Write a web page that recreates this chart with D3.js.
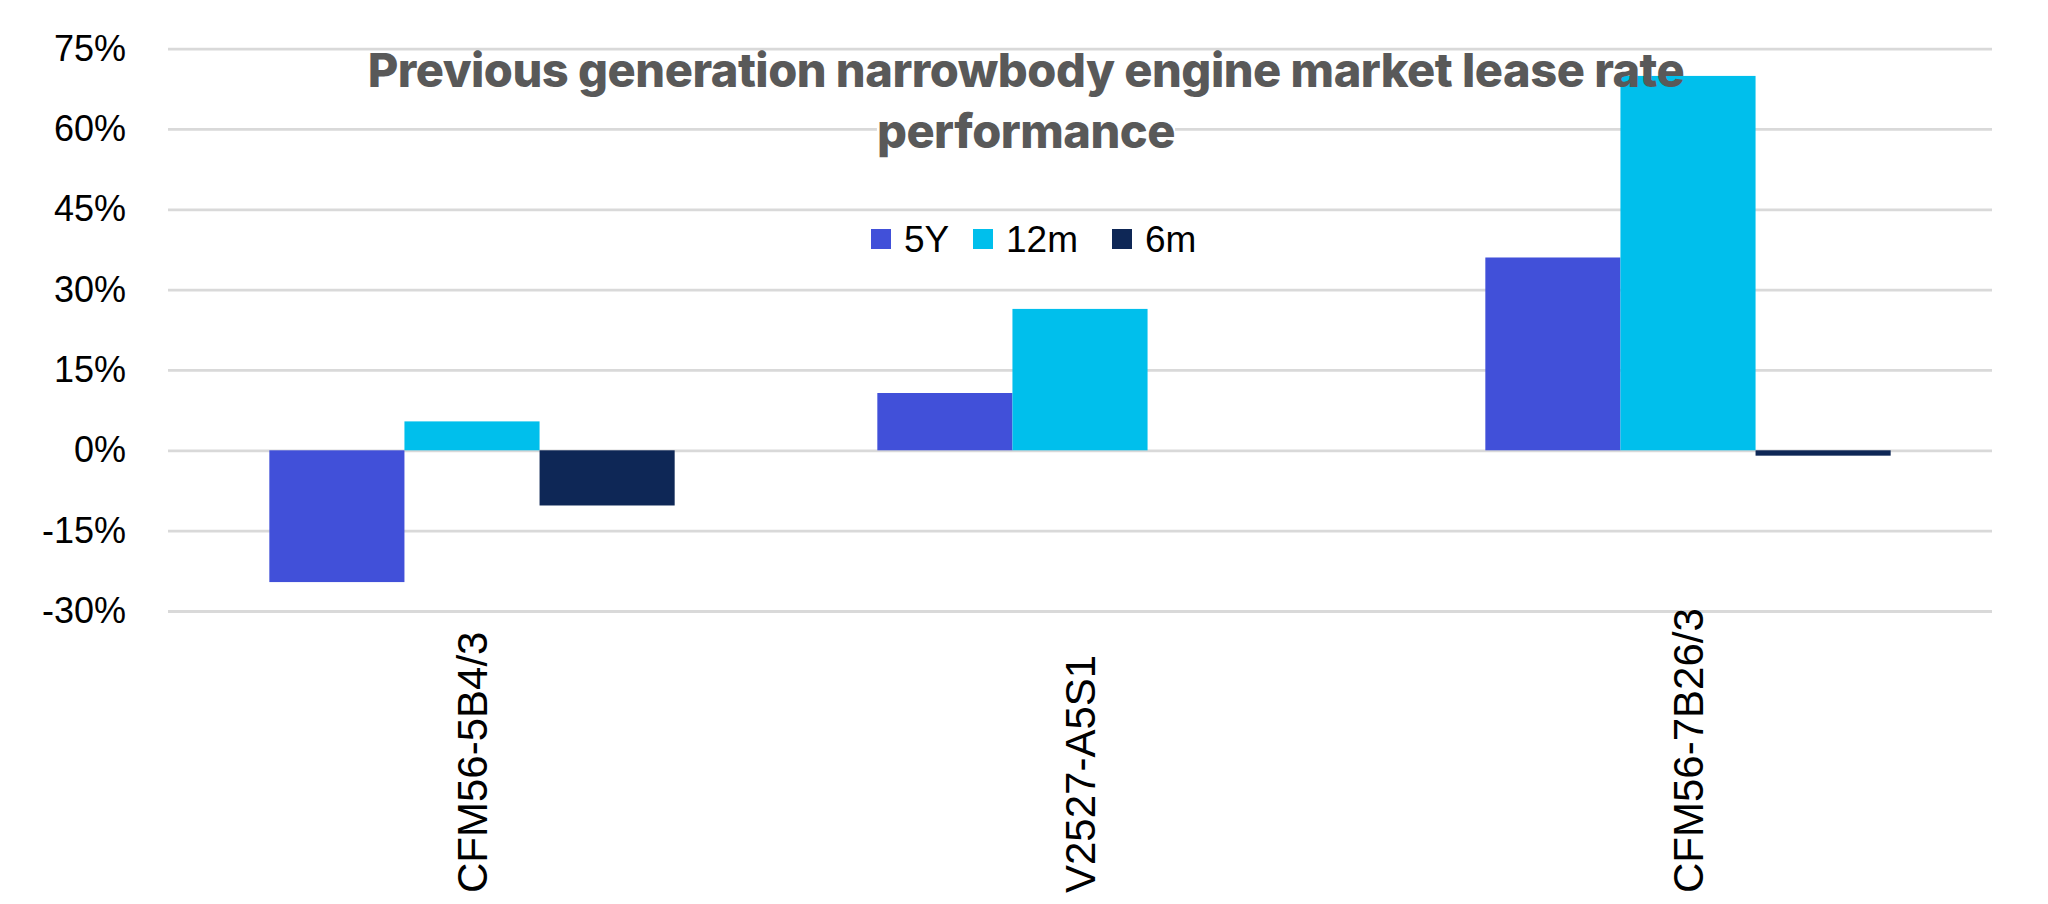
<!DOCTYPE html>
<head>
<meta charset="utf-8">
<style>
  body { margin: 0; background: #fff; }
  svg { display: block; }
</style>
</head>
<body>
<div id="chart_container"></div>

<script src="https://cdn.jsdelivr.net/npm/d3@7"></script>

<script>
const engines = ['CFM56-5B4/3', 'V2527-A5S1', 'CFM56-7B26/3']
const seriesNames = ['5Y', '12m', '6m']
const fiveYear = [-0.246, 0.107, 0.36]
const twelveMonth = [0.054, 0.264, 0.699]
const sixMonth = [-0.103, 0, -0.010]
const yTicks = [-0.30, -0.15, 0, 0.15, 0.30, 0.45, 0.60, 0.75]
const titleLines = ['Previous generation narrowbody engine market lease rate', 'performance']

const colors = ['#4150d9', '#00bfec', '#0e2756']
const values = [fiveYear, twelveMonth, sixMonth]

const width = 2048
const height = 904
const margin = {left: 168, right: 56}

const svg = d3.select('#chart_container')
              .append('svg')
              .attr('width', width)
              .attr('height', height)

const x0 = d3.scaleBand()
             .domain(engines)
             .range([margin.left, width - margin.right])
             .paddingInner(1/3)
             .paddingOuter(1/6)

const x1 = d3.scaleBand()
             .domain(seriesNames)
             .range([0, x0.bandwidth()])
             .padding(0)

const y = d3.scaleLinear()
            .domain([-0.30, 0.75])
            .range([611, 48.6])

const pct = d3.format('.0%')

// gridlines + tick labels
const yAxis = d3.axisLeft(y)
                .tickValues(yTicks)
                .tickFormat(d => pct(d).replace('\u2212', '-'))
                .tickSize(-(width - margin.left - margin.right))
                .tickPadding(42)

svg.append('g')
   .attr('transform', 'translate(' + margin.left + ',0)')
   .call(yAxis)
   .call(g => g.select('.domain').remove())
   .call(g => g.selectAll('.tick line').attr('stroke', '#d9d9d9').attr('stroke-width', 2.8))
   .call(g => g.selectAll('.tick text')
               .attr('fill', '#000')
               .style('font-family', '"Liberation Sans", Arial, sans-serif')
               .style('font-size', '36px'))

// bars
const groups = svg.append('g')
  .selectAll('g')
  .data(engines)
  .enter()
  .append('g')
  .attr('transform', d => 'translate(' + x0(d) + ',0)')

groups.selectAll('rect')
  .data((d, i) => seriesNames.map((s, j) => ({series: s, value: values[j][i], color: colors[j]})))
  .enter()
  .append('rect')
  .attr('x', d => x1(d.series))
  .attr('y', d => y(Math.max(0, d.value)))
  .attr('width', x1.bandwidth())
  .attr('height', d => Math.abs(y(d.value) - y(0)))
  .attr('fill', d => d.color)

// category labels, rotated
svg.append('g')
  .selectAll('text')
  .data(engines)
  .enter()
  .append('text')
  .attr('transform', d => 'translate(' + (x0(d) + x0.bandwidth() / 2) + ',893) rotate(-90)')
  .attr('dy', '0.35em')
  .attr('text-anchor', 'start')
  .style('font-family', '"Liberation Sans", Arial, sans-serif')
  .style('font-size', '42px')
  .attr('fill', '#000')
  .text(d => d)

// title
const title = svg.append('g')
const titleY = [87, 148]
titleLines.forEach((t, i) => {
  const bg = title.append('rect').attr('fill', '#fff')
  const txt = title.append('text')
    .attr('x', 1026)
    .attr('y', titleY[i])
    .attr('text-anchor', 'middle')
    .style('font-family', 'Inter, "Noto Sans", sans-serif')
    .style('font-weight', 800)
    .style('font-size', '47px')
    .style('letter-spacing', '-0.5px')
    .attr('fill', '#595959')
    .text(t)
  if (i === 1) {
    const bb = txt.node().getBBox()
    bg.attr('x', bb.x).attr('y', bb.y).attr('width', bb.width).attr('height', bb.height)
  }
})

// legend
const legendX = [871, 973, 1112]
const legend = svg.append('g')
seriesNames.forEach((s, i) => {
  legend.append('rect')
    .attr('x', legendX[i])
    .attr('y', 229)
    .attr('width', 20)
    .attr('height', 20)
    .attr('fill', colors[i])
  legend.append('text')
    .attr('x', legendX[i] + 33)
    .attr('y', 239)
    .attr('dy', '0.36em')
    .style('font-family', '"Liberation Sans", Arial, sans-serif')
    .style('font-size', '37px')
    .attr('fill', '#000')
    .text(s)
})
</script>
</body>
